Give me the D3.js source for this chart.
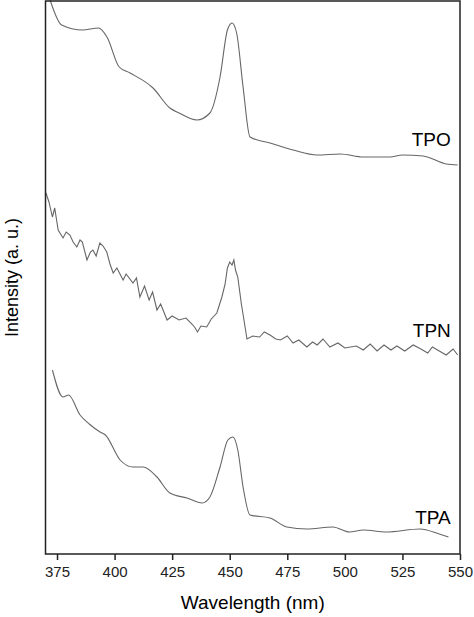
<!DOCTYPE html><html><head><meta charset="utf-8">
<script src="https://cdn.jsdelivr.net/npm/d3@7"></script>
<style>body{margin:0;background:#fff}</style></head><body><svg id="c" width="474" height="617"></svg>
<script>
const xTicks=[375,400,425,450,475,500,525,550];
const seriesNames=["TPO","TPN","TPA"];
const tpoX=[372,377,386,393,396.7,402,406.7,416.7,424,428,435.7,441.4,445.8,449,451,453,455.8,458.8,467.5,477.5,488,498,508,519.6,525,534,544,549];
const tpoY=[554,529,524,526,517,487,481,466,446,441,434,441,477,524,531,521,467,417,411,404,399,400,397,397,399,398,390,389];
const tpnX=[370.2,371.5,373,374,375.5,377.6,379,380.6,382,383.6,385,386,388,389.5,390.6,392,393.6,395,396.6,398,399.4,401,403.7,405,408,409.5,411,413,415,416.5,418.4,420,422.8,425,428,431,434,435,436,437.5,440,442,444.4,446.6,448,449,450,451,451.8,452.5,453.5,455,457.5,460,463,465,467.5,470,472,475,477.5,480,483.5,486,488,490.5,493.5,497,500,505,508,511,514,517,520,522.6,526,529.7,533,536,538,541,544,547,549];
const tpnY=[361,352,337,346,324,316,322,319,312,307,314,312,294,302,304,298,311,308,302,290,281,286,274,280,271,276,257,268,254,262,244,250,234,238,234,236,229,226,222,228,227,235,241,257,270,286,292,289,294,284,277,251,215,218,217,222,219,215,214,218,211,214,207,212,209,215,207,211,206,208,204,210,203,209,204,208,203,209,205,201,207,203,199,205,199];
const tpaX=[373,377.6,380,385,389,393.7,396,402.4,408,412.4,418.4,424,431.4,438,441.4,445.8,449.2,451.4,453.5,455.8,458.8,467.5,474.8,483.5,494.8,502,508,518,532.6,541,545];
const tpaY=[184,157,159,139,130,122,119,94,87,87,77,61,56,51,57,87,114,117,104,67,39,36,27,25,27,22,24,22,25,20,17];
const svg=d3.select("#c");
const m={l:45.5,r:460,t:1,b:554};
const x=d3.scaleLinear().domain([370,550]).range([m.l,m.r]);
const y=d3.scaleLinear().domain([0,553]).range([m.b,m.t]);
const data=[[tpoX,tpoY,true],[tpnX,tpnY,false],[tpaX,tpaY,true]];
data.forEach(([xs,ys,smooth])=>{
 const line=d3.line().x(d=>x(d[0])).y(d=>y(d[1])).curve(smooth?d3.curveMonotoneX:d3.curveLinear);
 svg.append("path").datum(xs.map((v,i)=>[v,ys[i]])).attr("d",line).attr("fill","none").attr("stroke","#666").attr("stroke-width",1.1);
});
const labY={TPO:408,TPN:217,TPA:30};
seriesNames.forEach(n=>svg.append("text").attr("x",x(546)).attr("y",y(labY[n])).attr("text-anchor","end").attr("font-family","Liberation Sans, Arial").attr("font-size",19).text(n));
svg.append("rect").attr("x",m.l).attr("y",m.t).attr("width",m.r-m.l).attr("height",m.b-m.t).attr("fill","none").attr("stroke","#222").attr("stroke-width",1.5);
const ax=svg.append("g").attr("transform",`translate(0,${m.b})`).call(d3.axisBottom(x).tickValues(xTicks).tickSize(6).tickPadding(6));
ax.select(".domain").remove();
ax.selectAll("line").attr("stroke","#222").attr("stroke-width",1.5);
ax.selectAll("text").attr("font-family","Liberation Sans, Arial").attr("font-size",15).attr("fill","#222");
svg.append("text").attr("x",(m.l+m.r)/2).attr("y",609).attr("text-anchor","middle").attr("font-family","Liberation Sans, Arial").attr("font-size",19).text("Wavelength (nm)");
svg.append("text").attr("transform",`translate(18,${(m.t+m.b)/2}) rotate(-90)`).attr("text-anchor","middle").attr("font-family","Liberation Sans, Arial").attr("font-size",18).text("Intensity (a. u.)");
</script></body></html>
